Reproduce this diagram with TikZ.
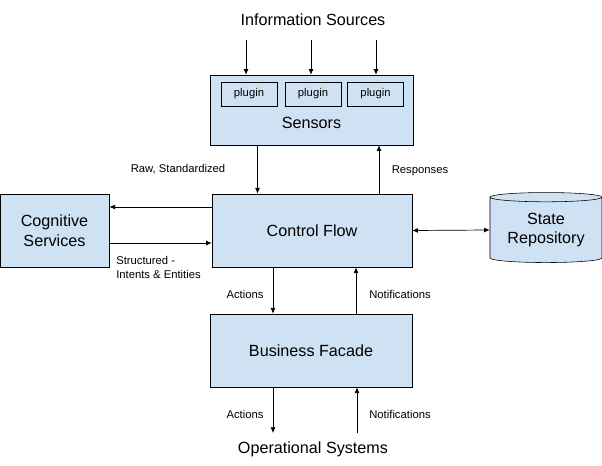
\documentclass[tikz,border=0pt]{standalone}
\usepackage{fontspec}
\setmainfont{Liberation Sans}
\usetikzlibrary{positioning, shapes.geometric, arrows.meta}

\begin{document}
\begin{tikzpicture}[
            x=0.025cm, y=-0.025cm,
            box/.style={
                rectangle,
                draw=black,
                fill=boxblue,
                inner sep=0pt,
                align=center,
                font=\fontsize{11.5}{14}\selectfont
            },
            plug/.style={
                rectangle,
                draw=black,
                fill=boxblue,
                minimum width=1.4cm,
                minimum height=0.6cm,
                font=\fontsize{8}{10}\selectfont
            },
            lbl/.style={font=\fontsize{8}{10}\selectfont, align=left},
            ttl/.style={font=\fontsize{11.5}{14}\selectfont},
            arrow/.style={-{Latex[length=4pt,width=3.5pt]}, line width=0.5pt}
        ]
        \definecolor{boxblue}{HTML}{CFE2F3}
        \useasboundingbox (0,0) rectangle (602,465);

        % Nodes
        \node[box, minimum width=5.08cm, minimum height=1.75cm] (Sensors) at (311.5,110) {\\[0.45cm]Sensors};
        \node[plug] (PlugA) at (249,94) {plugin};
        \node[plug] (PlugB) at (313,94) {plugin};
        \node[plug] (PlugC) at (375.5,94) {plugin};
        \node[box, minimum width=5cm, minimum height=1.83cm] (Control) at (312,230.5) {Control Flow};
        \node[box, minimum width=5.05cm, minimum height=1.83cm] (Business) at (311,350.5) {Business Facade};
        \node[box, minimum width=2.73cm, minimum height=1.83cm] (Cognitive) at (54.5,230.5) {Cognitive\\Services};
        \node[cylinder, shape border rotate=90, aspect=0.12, draw=black, fill=boxblue,
              inner sep=0pt, minimum width=2.8cm, minimum height=1.75cm, align=center,
              font=\fontsize{11.5}{14}\selectfont] (State) at (546,230) {\\[-6pt]State\\Repository};
        \node[ttl] (Sources) at (313,20) {Information Sources};
        \node[ttl] (Operational) at (313,449) {Operational Systems};
        \coordinate (SrcA) at (246,40);
        \coordinate (SrcB) at (311,40);
        \coordinate (SrcC) at (376,40);
        \coordinate (OpOut) at (273,433);
        \coordinate (OpIn) at (357,433);

        % Arrows
        \draw[arrow] (SrcA) -- (SrcA |- Sensors.north);
        \draw[arrow] (SrcB) -- (SrcB |- Sensors.north);
        \draw[arrow] (SrcC) -- (SrcC |- Sensors.north);
        \draw[arrow] ([shift={(-54,0)}] Sensors.south) -- ([shift={(-54,0)}] Sensors.south |- Control.north);
        \draw[arrow] ([shift={(67,0)}] Control.north) -- ([shift={(67,0)}] Control.north |- Sensors.south);
        \draw[arrow] ([shift={(0,-23.5)}] Control.west) -- ([shift={(0,-23.5)}] Control.west -| Cognitive.east);
        \draw[arrow] ([shift={(0,12.5)}] Cognitive.east) -- ([shift={(0,12.5)}] Cognitive.east -| Control.west);
        \draw[{Latex[length=4pt,width=3.5pt]}-{Latex[length=4pt,width=3.5pt]}, line width=0.5pt] (Control.east) -- (State.west);
        \draw[arrow] ([shift={(-39,0)}] Control.south) -- ([shift={(-39,0)}] Control.south |- Business.north);
        \draw[arrow] ([shift={(45,0)}] Business.north) -- ([shift={(45,0)}] Business.north |- Control.south);
        \draw[arrow] (OpOut |- Business.south) -- (OpOut);
        \draw[arrow] (OpIn) -- (OpIn |- Business.south);

        % Labels
        \node[lbl] (RawLbl) at (178,169) {Raw, Standardized};
        \node[lbl] (RespLbl) at (420,171) {Responses};
        \node[lbl, anchor=north west, inner sep=0pt] (StructLbl) at (116,256) {Structured -\\Intents \& Entities};
        \node[lbl] (ActLblA) at (245,294) {Actions};
        \node[lbl] (NotLblA) at (400,294) {Notifications};
        \node[lbl] (ActLblB) at (245,414) {Actions};
        \node[lbl] (NotLblB) at (400,414) {Notifications};

        \end{tikzpicture}
\end{document}
